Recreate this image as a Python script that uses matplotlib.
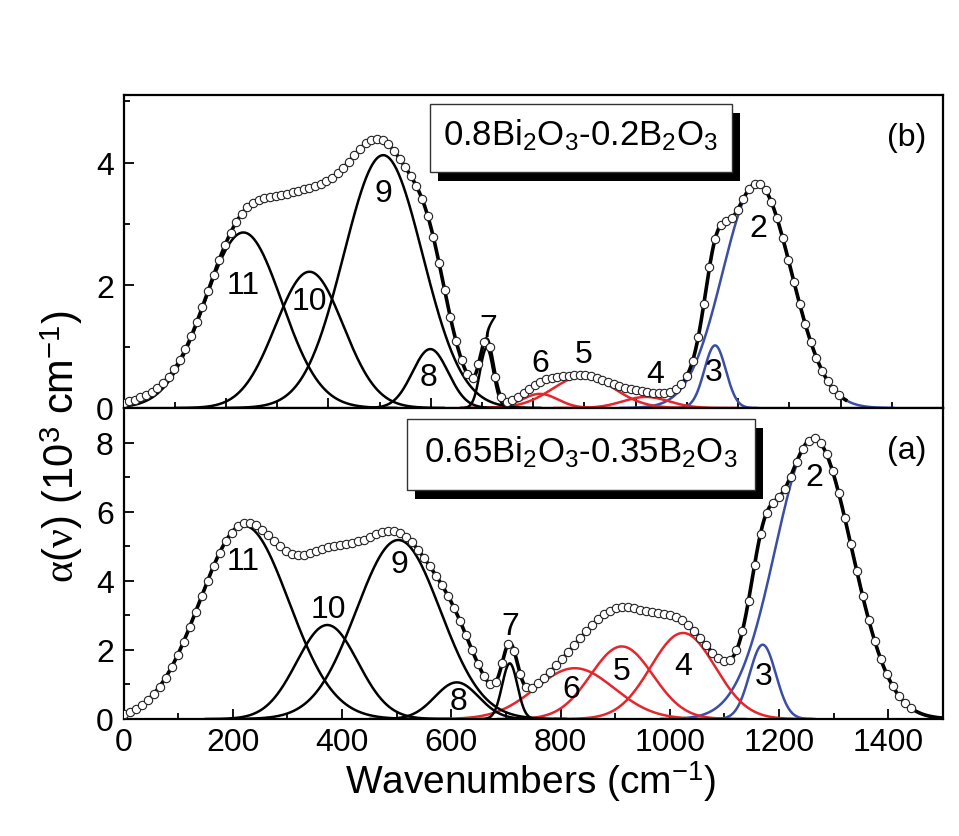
import numpy as np
import matplotlib
matplotlib.use('Agg')
import matplotlib.pyplot as plt
from matplotlib.patches import Rectangle
from matplotlib.ticker import MultipleLocator

plt.rcParams['font.family'] = ['Liberation Sans', 'DejaVu Sans']
plt.rcParams['mathtext.fontset'] = 'custom'
plt.rcParams['mathtext.rm'] = 'Liberation Sans'
plt.rcParams['mathtext.it'] = 'Liberation Serif'
plt.rcParams['mathtext.bf'] = 'Liberation Sans:bold'
plt.rcParams['mathtext.sf'] = 'Liberation Sans'

# ---------------- data: panel (b) 0.8Bi2O3-0.2B2O3 ----------------
b_labels = ['2', '3', '4', '5', '6', '7', '8', '9', '10', '11']
b_centers = [1237, 1155, 1020, 898, 813, 709, 599, 507, 363, 234]
b_heights = [3.66, 1.02, 0.18, 0.52, 0.23, 0.98, 0.96, 4.12, 2.22, 2.86]
b_widths = [67, 21, 45, 60, 35, 13, 35, 77, 66, 75]
b_label_x = [1240, 1152, 1038, 898, 813, 712, 595, 507, 363, 234]
b_label_y = [2.93, 0.58, 0.55, 0.88, 0.74, 1.31, 0.50, 3.50, 1.74, 2.01]
b_background = (50, 0.10, 50)      # low-frequency background in the envelope
b_title = r'0.8Bi$_2$O$_3$-0.2B$_2$O$_3$'

# ---------------- data: panel (a) 0.65Bi2O3-0.35B2O3 ----------------
a_labels = ['2', '3', '4', '5', '6', '7', '8', '9', '10', '11']
a_centers = [1263, 1170, 1024, 912, 826, 707, 610, 503, 373, 221]
a_heights = [8.12, 2.15, 2.49, 2.10, 1.47, 1.61, 1.06, 5.18, 2.72, 5.59]
a_widths = [70, 24, 59, 57, 72, 14, 40, 77, 56, 82]
a_label_x = [1265, 1171, 1024, 912, 820, 707, 613, 505, 375, 219]
a_label_y = [6.99, 1.25, 1.54, 1.40, 0.87, 2.70, 0.53, 4.48, 3.18, 4.58]
a_title = r'0.65Bi$_2$O$_3$-0.35B$_2$O$_3$'

x_ticks_labels = ['0', '200', '400', '600', '800', '1000', '1200', '1400']

BLUE = '#3a4ea6'
RED = '#e5262d'


def gauss(x, c, h, s):
    return h * np.exp(-0.5 * ((x - c) / s) ** 2)


def color_for(lab):
    n = int(lab)
    if n <= 3:
        return BLUE
    if n <= 6:
        return RED
    return 'black'


def envelope(x, centers, heights, widths, extra=None):
    y = np.zeros_like(x, dtype=float)
    for c, h, s in zip(centers, heights, widths):
        y += gauss(x, c, h, s)
    if extra is not None:
        y += gauss(x, *extra)
    return y


fig = plt.figure(figsize=(9.59, 8.37), dpi=100)
L, W = 123.5 / 959, 819.5 / 959
ax_b = fig.add_axes([L, 1 - 409 / 837, W, (409 - 96) / 837])
ax_a = fig.add_axes([L, 1 - 720 / 837, W, (720 - 409) / 837])


def draw_panel(ax, labels, centers, heights, widths, lx, ly, xmax_line, xmax_pts, extra=None):
    for lab, c, h, s in zip(labels, centers, heights, widths):
        xx = np.linspace(max(0, c - 4 * s), c + 4 * s, 400)
        ax.plot(xx, gauss(xx, c, h, s), color=color_for(lab), lw=1.8, zorder=2,
                solid_capstyle='round')
    xl = np.linspace(0, xmax_line, 1500)
    ax.plot(xl, envelope(xl, centers, heights, widths, extra), color='black', lw=2.6, zorder=3)
    xp = np.arange(0, xmax_pts, 11.0)
    ax.plot(xp, envelope(xp, centers, heights, widths, extra), 'o', ms=6, mfc='white',
            mec='#222222', mew=0.8, zorder=4)
    for lab, x, y in zip(labels, lx, ly):
        ax.text(x, y, lab, fontsize=23, ha='center', va='center', zorder=5)


draw_panel(ax_b, b_labels, b_centers, b_heights, b_widths, b_label_x, b_label_y,
           1410, 1405, b_background)
draw_panel(ax_a, a_labels, a_centers, a_heights, a_widths, a_label_x, a_label_y,
           1500, 1452)

ax_b.set_xlim(0, 1600)
ax_b.set_ylim(0, 5.1)
ax_a.set_xlim(0, 1500)
ax_a.set_ylim(0, 9)

for ax in (ax_a, ax_b):
    for sp in ax.spines.values():
        sp.set_linewidth(1.6)
    ax.xaxis.set_major_locator(MultipleLocator(200))
    ax.xaxis.set_minor_locator(MultipleLocator(100))
    ax.yaxis.set_major_locator(MultipleLocator(2))
    ax.yaxis.set_minor_locator(MultipleLocator(1))
    ax.tick_params(which='both', direction='in', top=False, right=False, width=1.3,
                   labelsize=23, pad=7)
    ax.tick_params(which='major', length=7)
    ax.tick_params(which='minor', length=4)

ax_b.tick_params(labelbottom=False)
ax_a.set_xticks(np.arange(0, 1500, 200))
ax_a.set_xticklabels(x_ticks_labels)
ax_a.tick_params(axis='x', pad=6)
ax_b.set_yticks([0, 2, 4])
ax_a.set_yticks([0, 2, 4, 6, 8])


def title_box(ax, x0, x1, y0, y1, text, fs):
    bb = ax.get_position()
    dx = 8 / (bb.width * 959)
    dy = 9 / (bb.height * 837)
    ax.add_patch(Rectangle((x0 + dx, y0 - dy), x1 - x0, y1 - y0, transform=ax.transAxes,
                           facecolor='black', edgecolor='black', lw=0, zorder=8))
    ax.add_patch(Rectangle((x0, y0), x1 - x0, y1 - y0, transform=ax.transAxes,
                           facecolor='white', edgecolor='#333333', lw=1.0, zorder=9))
    ax.text((x0 + x1) / 2, (y0 + y1) / 2 + 0.01, text, transform=ax.transAxes,
            ha='center', va='center', fontsize=fs, zorder=10)


title_box(ax_b, 0.374, 0.7425, 0.754, 0.971, b_title, 25)
title_box(ax_a, 0.346, 0.771, 0.737, 0.965, a_title, 25)

ax_b.text(0.956, 0.865, '(b)', transform=ax_b.transAxes, fontsize=23, ha='center', va='center')
ax_a.text(0.956, 0.865, '(a)', transform=ax_a.transAxes, fontsize=23, ha='center', va='center')

fig.text(530 / 959, 1 - 782 / 837, r'Wavenumbers (cm$^{-1}$)', fontsize=28,
         ha='center', va='center')
fig.text(62 / 959, 1 - 447 / 837, r'$\alpha(\nu)$ (10$^3$ cm$^{-1}$)', fontsize=30,
         ha='center', va='center', rotation=90)

fig.savefig('out.png', dpi=100)
